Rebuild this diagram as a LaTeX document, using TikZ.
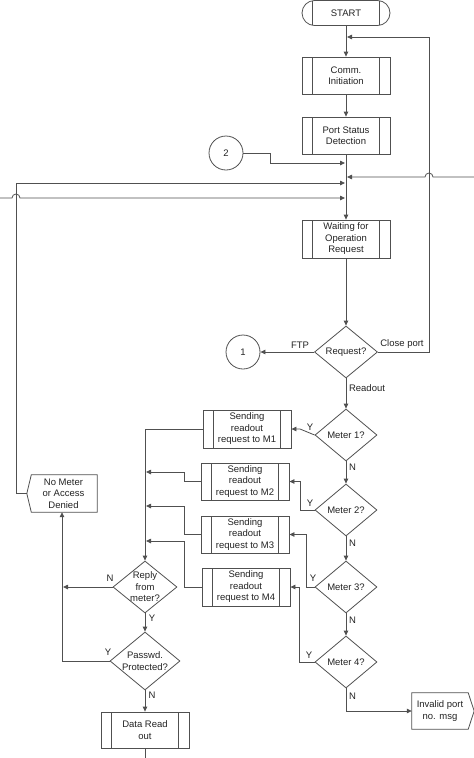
\documentclass[tikz,border=0pt]{standalone}
\usepackage{fontspec}
\setmainfont{Liberation Sans}
\usetikzlibrary{shapes.geometric,arrows.meta,calc}
\definecolor{lc}{RGB}{80,80,80}
\definecolor{tc}{RGB}{35,35,35}
\newcommand\dfont{\fontsize{9.5}{11.5}\selectfont}
\begin{document}
\begin{tikzpicture}[x=1pt,y=-1pt,
  base/.style={draw=lc, line width=0.8pt, font=\dfont, text=tc, align=center, inner sep=0pt},
  proc/.style={base, rectangle, minimum width=88pt, minimum height=37pt,
    path picture={\draw[lc, line width=0.8pt]
      ([xshift=10.5pt]path picture bounding box.north west) -- ([xshift=10.5pt]path picture bounding box.south west)
      ([xshift=-10.5pt]path picture bounding box.north east) -- ([xshift=-10.5pt]path picture bounding box.south east);}},
  dia/.style={draw=lc, line width=0.8pt, diamond, inner sep=0pt, minimum width=63pt, minimum height=52pt},
  circ/.style={base, circle, minimum size=34pt},
  lab/.style={font=\dfont, text=tc, inner sep=0pt, align=center},
  conn/.style={draw=lc, line width=0.8pt, -{Triangle[length=5pt,width=4.5pt]}},
  wire/.style={draw=lc, line width=0.8pt},
  shp/.style={rectangle, font=\dfont, text=tc, align=center, inner sep=0pt}
]
\useasboundingbox (0,0) rectangle (474,758);

% ---- nodes ----
\node[proc, rounded corners=12.5pt, minimum height=25pt] (start) at (346,13) {START};
\node[proc] (comm) at (346,75.5) {Comm.\\Initiation};
\node[proc] (port) at (346,135.5) {Port Status\\Detection};
\node[circ] (c2) at (226,153) {2};
\node[proc, minimum height=38pt] (wait) at (346,239) {Waiting for\\Operation\\Request};
\node[dia, label={[lab]center:Request?}] (req) at (346,352) {};
\node[circ] (c1) at (243,352) {1};

\node[dia, minimum width=62pt, label={[lab]center:Meter 1?}] (m1) at (346,435) {};
\node[dia, minimum width=62pt, label={[lab]center:Meter 2?}] (m2) at (346,510) {};
\node[dia, minimum width=62pt, label={[lab]center:Meter 3?}] (m3) at (346,587) {};
\node[dia, minimum width=62pt, label={[lab]center:Meter 4?}] (m4) at (346,662) {};

\node[proc, minimum height=38pt] (s1) at (247,429) {Sending\\readout\\request to M1};
\node[proc] (s2) at (245,481.5) {Sending\\readout\\request to M2};
\node[proc] (s3) at (245,534.5) {Sending\\readout\\request to M3};
\node[proc, minimum height=38pt] (s4) at (246,587) {Sending\\readout\\request to M4};

\node[dia, minimum width=64pt, label={[lab]center:Reply\\from\\meter?}] (reply) at (145,587) {};
\node[dia, minimum width=70pt, minimum height=58pt, label={[lab]center:Passwd.\\Protected?}] (pw) at (145,661) {};
\node[proc, minimum height=36pt] (data) at (145,730) {Data Read\\out};

\node[shp, minimum width=70pt, minimum height=37pt] (nm) at (62,493.5) {\hspace*{3pt}No Meter\\\hspace*{3pt}or Access\\\hspace*{3pt}Denied};
\draw[wire] ([xshift=4.5pt]nm.north west) -- (nm.north east) -- (nm.south east) -- ([xshift=4.5pt]nm.south west) -- (nm.west) -- cycle;

\node[shp, minimum width=56pt, minimum height=36pt] (inv) at (440,711) {Invalid port\\no. msg};
\draw[wire] (inv.north west) -- (inv.north east) -- ([xshift=6pt]inv.east) -- (inv.south east) -- (inv.south west) -- cycle;

% ---- junction coordinates ----
\coordinate (jr0) at (347,37);
\coordinate (jl1) at (345,163);
\coordinate (jr1) at (347,177);
\coordinate (jl2) at (345,183);
\coordinate (jl3) at (345,198);
\coordinate (a2) at (146,472);
\coordinate (a3) at (146,506);
\coordinate (a4) at (146,541);
\coordinate (rn) at (63,587);
\coordinate (offl) at (0,198);
\coordinate (offr) at (474,177);
\coordinate (offb) at (145,758);

% ---- connectors ----
\draw[conn] (start.south) -- (comm.north);
\draw[conn] (comm.south) -- (port.north);
\draw[conn] (port.south) -- (wait.north);
\draw[conn] (wait.south) -- (req.north);

\draw[conn] (req.east) -- (429,352) -- (429,37) -- (jr0);
\node[lab] (lclose) at (402,344) {Close port};
\draw[conn] (req.west) -- (c1.east);
\node[lab] (lftp) at (300,345) {FTP};
\draw[conn] (req.south) -- (m1.north);
\node[lab] (lread) at (367,388) {Readout};

\draw[conn] (c2.east) -- (270,153) -- (270,163) -- (jl1);
\draw[conn] (offr) -- (433,177) arc (0:180:4pt) -- (jr1);
\draw[conn] (nm.west) -- (16,493.5) -- (16,183) -- (jl2);
\draw[conn] (offl) -- (12,198) arc (180:0:4pt) -- (jl3);

\draw[conn] (m1.south) -- (m2.north);
\node[lab, anchor=west] (n1) at (349,467) {N};
\draw[conn] (m2.south) -- (m3.north);
\node[lab, anchor=west] (n2) at (349,543) {N};
\draw[conn] (m3.south) -- (m4.north);
\node[lab, anchor=west] (n3) at (349,620) {N};
\draw[conn] (m4.south) -- (346,711) -- (inv.west);
\node[lab, anchor=west] (n4) at (349,696) {N};

\draw[conn] (m1.west) -- (300,429) -- (s1.east);
\node[lab] (y1) at (310,427) {Y};
\draw[conn] (m2.west) -- (300,510) -- (300,481.5) -- (s2.east);
\node[lab] (y2) at (310,503) {Y};
\draw[conn] (m3.west) -- (306,587) -- (306,534.5) -- (s3.east);
\node[lab] (y3) at (313,578) {Y};
\draw[conn] (m4.west) -- (299,662) -- (299,587) -- (s4.east);
\node[lab] (y4) at (309,655) {Y};

\draw[conn] (s1.west) -- (145,429) -- (reply.north);
\draw[conn] (s2.west) -| (184,472) -- (a2);
\draw[conn] (s3.west) -| (184,506) -- (a3);
\draw[conn] (s4.west) -| (184,541) -- (a4);

\draw[conn] (reply.west) -- (rn);
\node[lab] (rN) at (110,578) {N};
\draw[conn] (reply.south) -- (pw.north);
\node[lab] (rY) at (152,618) {Y};
\draw[conn] (pw.west) -- (62,661) -- (nm.south);
\node[lab] (pY) at (108,652) {Y};
\draw[conn] (pw.south) -- (data.north);
\node[lab] (pN) at (152,695) {N};
\draw[wire] (data.south) -- (offb);
\end{tikzpicture}
\end{document}
